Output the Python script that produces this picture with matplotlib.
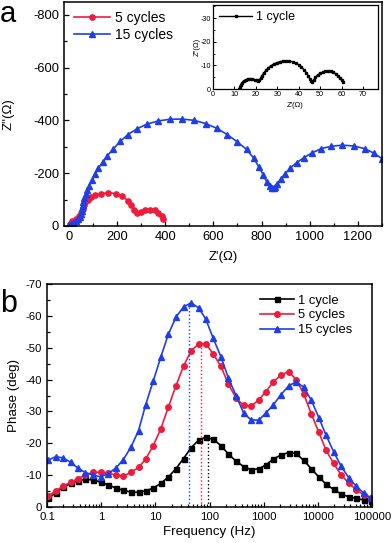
import numpy as np
import matplotlib
matplotlib.use("Agg")
import matplotlib.pyplot as plt
from matplotlib.ticker import MultipleLocator, LogLocator, FixedLocator, FixedFormatter, NullFormatter

plt.rcParams['font.family'] = ['Liberation Sans', 'DejaVu Sans']
plt.rcParams['axes.unicode_minus'] = False

RED = '#ee1c3c'
BLUE = '#1f3ee6'
BLACK = '#000000'

# ---------------- Panel a: Nyquist ----------------
z_re_5 = [5, 15, 29, 43, 52, 57, 62, 68, 78, 92, 110, 133, 163, 195, 222, 245,
          260, 272, 285, 300, 318, 338, 356, 372, 385, 393]
z_im_5 = [-8, -18, -28, -38, -50, -65, -80, -90, -100, -110, -117, -122, -126, -123, -113, -96,
          -78, -60, -50, -52, -59, -62, -59, -50, -38, -25]

z_re_15 = [2, 10, 18, 28, 38, 45, 50, 53, 55, 57, 60, 64, 70, 77, 85, 96, 108, 122, 140, 160,
           185, 213, 245, 283, 325, 372, 420, 470, 520, 568, 614, 658, 700, 738, 768, 790,
           808, 822, 834, 843, 850, 857, 866, 880, 898, 920, 946, 976, 1010, 1048, 1090,
           1135, 1182, 1228, 1268, 1300]
z_im_15 = [-3, -8, -13, -20, -27, -33, -45, -58, -70, -80, -92, -106, -120, -138, -153, -173,
           -195, -218, -241, -266, -292, -320, -346, -368, -386, -398, -404, -405, -400, -388,
           -370, -346, -318, -290, -256, -222, -192, -167, -152, -145, -143, -147, -160, -178,
           -198, -220, -240, -259, -277, -293, -302, -306, -303, -293, -275, -255]

z_re_1 = [12.3, 12.5, 12.9, 13.5, 14.3, 15.2, 16.2, 17.3, 18.4, 19.4, 20.3, 21.0, 21.6, 22.2,
          22.9, 23.7, 24.7, 25.8, 27.0, 28.3, 29.7, 31.1, 32.6, 34.1, 35.6, 37.1, 38.5, 39.9,
          41.2, 42.4, 43.5, 44.4, 45.2, 45.8, 46.4, 47.0, 47.8, 48.8, 49.9, 51.1, 52.4, 53.7,
          55.0, 56.2, 57.4, 58.4, 59.3, 60.0, 60.5]
z_im_1 = [0, -0.9, -1.8, -2.7, -3.4, -3.9, -4.3, -4.4, -4.3, -4.0, -3.7, -3.5, -3.6, -4.6,
          -5.7, -6.8, -7.9, -8.9, -9.8, -10.5, -11.1, -11.5, -11.8, -11.9, -11.8, -11.5, -11.0,
          -10.3, -9.4, -8.2, -6.9, -5.6, -4.3, -3.3, -3.0, -3.8, -4.9, -5.9, -6.6, -7.1, -7.4,
          -7.5, -7.4, -7.0, -6.4, -5.6, -4.7, -3.8, -3.0]

# ---------------- Panel b: Bode phase ----------------
log_freq = [-0.98, -0.84, -0.70, -0.56, -0.43, -0.29, -0.15, -0.01, 0.13, 0.27, 0.41, 0.55,
            0.69, 0.82, 0.96, 1.10, 1.24, 1.38, 1.52, 1.66, 1.80, 1.93, 2.07, 2.21, 2.35,
            2.49, 2.63, 2.77, 2.91, 3.04, 3.18, 3.32, 3.46, 3.60, 3.74, 3.88, 4.02, 4.15,
            4.29, 4.43, 4.57, 4.71, 4.85, 4.99]
phase_1 = [-2.7, -4.4, -6.2, -7.4, -8.3, -8.7, -8.5, -7.8, -6.9, -6.0, -5.2, -4.7, -4.6, -5.1,
           -5.9, -7.4, -9.4, -12.0, -15.2, -18.6, -21.0, -21.9, -21.2, -19.3, -16.6, -14.4,
           -12.7, -11.7, -12.0, -13.2, -15.1, -16.3, -17.1, -16.8, -14.6, -12.0, -9.4, -7.2,
           -5.5, -4.1, -3.2, -2.7, -2.2, -2.0]
phase_5 = [-3.5, -5.0, -6.6, -7.8, -8.9, -10.1, -10.9, -10.9, -10.6, -10.0, -9.7, -10.9, -12.4,
           -15.0, -19.2, -24.5, -31.3, -38.0, -44.2, -49.0, -51.2, -51.3, -48.0, -44.2, -38.5,
           -34.2, -31.9, -31.7, -33.6, -36.2, -39.3, -41.4, -42.5, -40.0, -35.5, -29.2, -23.4,
           -17.9, -13.7, -10.1, -7.5, -5.4, -3.8, -2.7]
phase_15 = [-14.7, -15.8, -15.4, -14.0, -12.2, -10.8, -10.0, -9.5, -10.5, -12.2, -14.9, -18.8,
            -24.0, -32.0, -39.5, -47.0, -54.2, -59.6, -62.8, -64.1, -62.5, -59.0, -52.9, -47.2,
            -40.4, -35.0, -29.5, -27.3, -27.3, -29.5, -32.1, -35.3, -38.0, -39.3, -37.6, -33.5,
            -28.0, -22.6, -17.4, -12.8, -9.2, -6.5, -4.3, -2.7]

peak_freq = [93.8, 68.7, 42.5]      # 1, 5, 15 cycles
peak_phase = [-21.5, -50.8, -63.6]

freq = np.power(10.0, np.array(log_freq))

fig = plt.figure(figsize=(3.92, 5.43), dpi=100)

# ---- panel a ----
axa = fig.add_axes([64/392, 1 - 226/543, (382-64)/392, (226-1.5)/543])
axa.plot(z_re_5, z_im_5, '-o', color=RED, lw=1.2, ms=3.8, label='5 cycles')
axa.plot(z_re_15, z_im_15, '-^', color=BLUE, lw=1.2, ms=4.0, label='15 cycles')
axa.set_xlim(-20, 1300)
axa.set_ylim(0, -850)
axa.xaxis.set_major_locator(MultipleLocator(200))
axa.xaxis.set_minor_locator(MultipleLocator(100))
axa.yaxis.set_major_locator(MultipleLocator(200))
axa.yaxis.set_minor_locator(MultipleLocator(100))
axa.tick_params(which='both', direction='in', labelsize=9.3, width=0.9)
axa.tick_params(which='major', length=3.5)
axa.tick_params(which='minor', length=2)
for s in axa.spines.values():
    s.set_linewidth(1.1)
axa.set_xlabel("Z'(\u03a9)", fontsize=9.5, labelpad=6)
axa.set_ylabel("Z''(\u03a9)", fontsize=9.5, labelpad=13)
axa.legend(loc='upper left', frameon=False, fontsize=10, handlelength=2.6,
           borderaxespad=0.3, handletextpad=0.4, labelspacing=0.2,
           bbox_to_anchor=(0.0, 1.0))
fig.text(0.0, 1.0, 'a', fontsize=21, ha='left', va='top')

# ---- inset ----
axi = fig.add_axes([213/392, 1 - 89/543, (378-213)/392, (89-5)/543])
axi.plot(z_re_1, z_im_1, '-s', color=BLACK, lw=1.0, ms=1.6, label='1 cycle')
axi.set_xlim(0, 77)
axi.set_ylim(0, -35.5)
axi.xaxis.set_major_locator(MultipleLocator(10))
axi.yaxis.set_major_locator(MultipleLocator(10))
axi.yaxis.set_minor_locator(MultipleLocator(5))
axi.tick_params(which='both', direction='in', labelsize=5.2, pad=1.5, width=0.7)
axi.tick_params(which='major', length=2.5)
axi.tick_params(which='minor', length=1.5)
for s in axi.spines.values():
    s.set_linewidth(0.9)
axi.set_xlabel("Z'(\u03a9)", fontsize=5.5, labelpad=3)
axi.set_ylabel("Z''(\u03a9)", fontsize=5.5, labelpad=0)
axi.legend(loc='upper left', frameon=False, fontsize=9, handlelength=2.6,
           borderaxespad=0.1, handletextpad=0.3, bbox_to_anchor=(0.0, 1.0))

# ---- panel b ----
axb = fig.add_axes([47/392, 1 - 507/543, (372-47)/392, (507-284)/543])
axb.plot(freq, phase_1, '-s', color=BLACK, lw=1.2, ms=3.6, label='1 cycle')
axb.plot(freq, phase_5, '-o', color=RED, lw=1.2, ms=4.0, label='5 cycles')
axb.plot(freq, phase_15, '-^', color=BLUE, lw=1.2, ms=4.2, label='15 cycles')
for f, p, c in zip(peak_freq, peak_phase, [BLACK, RED, BLUE]):
    axb.plot([f, f], [0, p], ':', color=c, lw=1.0)
axb.set_xscale('log')
axb.set_xlim(0.1, 100000)
axb.set_ylim(0, -70)
xt = [0.1, 1, 10, 100, 1000, 10000, 100000]
axb.xaxis.set_major_locator(FixedLocator(xt))
axb.xaxis.set_major_formatter(FixedFormatter(['0.1', '1', '10', '100', '1000', '10000', '100000']))
axb.xaxis.set_minor_locator(LogLocator(base=10, subs=np.arange(2, 10), numticks=20))
axb.xaxis.set_minor_formatter(NullFormatter())
axb.yaxis.set_major_locator(MultipleLocator(10))
axb.yaxis.set_minor_locator(MultipleLocator(5))
axb.tick_params(which='both', direction='in', labelsize=8.2, width=0.9)
axb.tick_params(which='major', length=3.5)
axb.tick_params(which='minor', length=2)
for s in axb.spines.values():
    s.set_linewidth(1.1)
axb.set_xlabel('Frequency (Hz)', fontsize=9.6, labelpad=3)
axb.set_ylabel('Phase (deg)', fontsize=9.6, labelpad=4)
axb.legend(loc='upper right', frameon=False, fontsize=9.4, handlelength=2.6,
           borderaxespad=0.4, handletextpad=0.3, labelspacing=0.2,
           bbox_to_anchor=(0.97, 1.0))
fig.text(0.0, 1 - 312/543, 'b', fontsize=22, ha='left', va='baseline')

fig.savefig('out.png', dpi=100)
